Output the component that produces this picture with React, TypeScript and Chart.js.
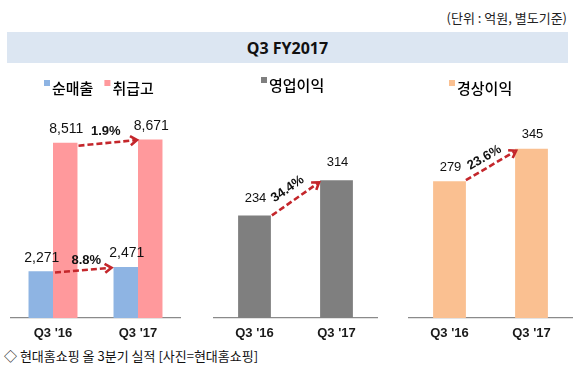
import React, { useEffect, useRef } from "react";
import { Chart, registerables } from "chart.js";

Chart.register(...registerables);

// ---- data ----
const categories = ["Q3 '16", "Q3 '17"];
const netSales = [2271, 2471]; // 순매출
const grossSales = [8511, 8671]; // 취급고
const operatingProfit = [234, 314]; // 영업이익
const ordinaryProfit = [279, 345]; // 경상이익
const growthNetSales = "8.8%";
const growthGrossSales = "1.9%";
const growthOperating = "34.4%";
const growthOrdinary = "23.6%";
const legendPanel1 = ["순매출", "취급고"];
const legendPanel2 = ["영업이익"];
const legendPanel3 = ["경상이익"];
const titleText = "Q3 FY2017";
const unitText = "(단위 : 억원, 별도기준)";
const captionText = "◇ 현대홈쇼핑 올 3분기 실적 [사진=현대홈쇼핑]";

// ---- styles ----
const BLUE = "#8EB4E3";
const PINK = "#FF999C";
const GRAY = "#7F7F7F";
const ORANGE = "#FAC091";
const ARROW = "#C4262B";
const CJK = '"Noto Sans CJK KR", "Noto Sans", sans-serif';
const LATIN = '"Liberation Sans", Arial, sans-serif';

const annotPlugin = {
  id: "annot",
  afterDatasetsDraw(chart: any, _args: any, opts: any) {
    const ctx = chart.ctx;
    // legend
    if (opts.legend) {
      const lg = opts.legend;
      ctx.save();
      ctx.font = `500 15px ${CJK}`;
      ctx.textBaseline = "middle";
      ctx.textAlign = "left";
      let x = lg.x;
      lg.items.forEach((it: any) => {
        ctx.fillStyle = it.color;
        ctx.fillRect(x, lg.y - 8, 6, 6);
        x += 8;
        ctx.fillStyle = "#000";
        ctx.fillText(it.text, x, lg.y);
        x += ctx.measureText(it.text).width + 11;
      });
      ctx.restore();
    }
    // value labels
    chart.data.datasets.forEach((ds: any, di: number) => {
      const meta = chart.getDatasetMeta(di);
      meta.data.forEach((el: any, i: number) => {
        const v = ds.data[i];
        ctx.save();
        ctx.font = opts.valueFont;
        ctx.fillStyle = "#111";
        ctx.textAlign = "center";
        ctx.textBaseline = "middle";
        ctx.fillText(Number(v).toLocaleString("en-US"), el.x + 1, el.y - opts.valueOffset);
        ctx.restore();
      });
    });
    // arrows
    (opts.arrows || []).forEach((a: any) => {
      const meta = chart.getDatasetMeta(a.dataset);
      const p0 = meta.data[0];
      const p1 = meta.data[1];
      const x0 = p0.x + p0.width / 2 + a.s[0];
      const y0 = p0.y + a.s[1];
      const x1 = p1.x - p1.width / 2 + a.e[0];
      const y1 = p1.y + a.e[1];
      const ang = Math.atan2(y1 - y0, x1 - x0);
      const head = 8;
      ctx.save();
      ctx.strokeStyle = ARROW;
      ctx.lineWidth = 2.6;
      ctx.setLineDash([6, 3]);
      ctx.beginPath();
      ctx.moveTo(x0, y0);
      ctx.lineTo(x1 - Math.cos(ang) * 2, y1 - Math.sin(ang) * 2);
      ctx.stroke();
      ctx.setLineDash([]);
      ctx.lineJoin = "miter";
      ctx.beginPath();
      ctx.moveTo(x1 - head * Math.cos(ang - 0.6), y1 - head * Math.sin(ang - 0.6));
      ctx.lineTo(x1, y1);
      ctx.lineTo(x1 - head * Math.cos(ang + 0.6), y1 - head * Math.sin(ang + 0.6));
      ctx.stroke();
      // label
      const mx = (x0 + x1) / 2 + (a.ldx || 0);
      const my = (y0 + y1) / 2;
      ctx.font = `bold 13px ${LATIN}`;
      ctx.fillStyle = "#111";
      ctx.textAlign = "center";
      ctx.textBaseline = "middle";
      if (a.rotate) {
        const nx = Math.sin(ang);
        const ny = -Math.cos(ang);
        ctx.translate(mx + nx * a.off, my + ny * a.off);
        ctx.rotate(ang);
        ctx.fillText(a.text, 0, 0);
      } else {
        ctx.fillText(a.text, mx, my - a.off);
      }
      ctx.restore();
    });
  },
};

function makeConfig(p: any) {
  return {
    type: "bar",
    data: { labels: categories, datasets: p.datasets },
    plugins: [annotPlugin],
    options: {
      responsive: false,
      animation: false,
      layout: { padding: { top: 47, left: p.padL, right: p.padR, bottom: 0 } },
      scales: {
        x: {
          grid: { display: false, drawTicks: false },
          border: { display: true, color: "#8A8A8A", width: 1.3 },
          ticks: {
            padding: 8,
            color: "#1a1a1a",
            font: { family: LATIN, weight: "bold", size: 13 },
          },
          afterFit: (s: any) => {
            s.height = 27;
          },
        },
        y: { display: false, min: 0, max: p.max },
      },
      plugins: {
        legend: { display: false },
        tooltip: { enabled: false },
        annot: {
          legend: p.legend,
          valueFont: p.valueFont,
          valueOffset: p.valueOffset,
          arrows: p.arrows,
        },
      },
    },
  };
}

function Panel(props: any) {
  const ref = useRef<HTMLCanvasElement | null>(null);
  useEffect(() => {
    const chart = new Chart(ref.current as any, makeConfig(props.cfg) as any);
    return () => chart.destroy();
  }, []);
  return (
    <canvas
      ref={ref}
      width={props.w}
      height={280}
      style={{ position: "absolute", left: props.left, top: 65, width: props.w, height: 280 }}
    />
  );
}

const panel1 = {
  padL: 10.5,
  padR: 11.5,
  max: 10000,
  valueFont: `14px ${LATIN}`,
  valueOffset: 13.5,
  legend: {
    x: 44,
    y: 23,
    items: [
      { text: legendPanel1[0], color: BLUE },
      { text: legendPanel1[1], color: PINK },
    ],
  },
  datasets: [
    { data: netSales, backgroundColor: BLUE, barPercentage: 1, categoryPercentage: 0.576 },
    { data: grossSales, backgroundColor: PINK, barPercentage: 1, categoryPercentage: 0.576 },
  ],
  arrows: [
    { dataset: 1, s: [1, 3], e: [-1, 0.7], text: growthGrossSales, off: 11, rotate: false, ldx: -2 },
    { dataset: 0, s: [2, 1.3], e: [-2, 0.7], text: growthNetSales, off: 10, rotate: false, ldx: 3 },
  ],
};

const panel2 = {
  padL: 21.5,
  padR: 5.5,
  max: 470,
  valueFont: `13px ${LATIN}`,
  valueOffset: 17.5,
  legend: { x: 69, y: 20, items: [{ text: legendPanel2[0], color: GRAY }] },
  datasets: [
    { data: operatingProfit, backgroundColor: GRAY, barPercentage: 0.4, categoryPercentage: 1 },
  ],
  arrows: [{ dataset: 0, s: [1, 0], e: [-1, 2], text: growthOperating, off: 12, rotate: true, ldx: -1 }],
};

const panel3 = {
  padL: 25.5,
  padR: 3.5,
  max: 420,
  valueFont: `13px ${LATIN}`,
  valueOffset: 14,
  legend: { x: 66, y: 23, items: [{ text: legendPanel3[0], color: ORANGE }] },
  datasets: [
    { data: ordinaryProfit, backgroundColor: ORANGE, barPercentage: 0.4, categoryPercentage: 1 },
  ],
  arrows: [{ dataset: 0, s: [0, -1], e: [1, 2], text: growthOrdinary, off: 9, rotate: true, ldx: -2 }],
};

export default function App() {
  return (
    <div
      style={{
        position: "fixed",
        left: 0,
        top: 0,
        width: 576,
        height: 369,
        background: "#fff",
        overflow: "hidden",
      }}
    >
      <div
        style={{
          position: "absolute",
          right: 9,
          top: 9,
          font: `13px ${CJK}`,
          color: "#222",
          whiteSpace: "nowrap",
          lineHeight: "18px",
        }}
      >
        {unitText}
      </div>
      <div
        style={{
          position: "absolute",
          left: 7,
          top: 32,
          width: 561,
          height: 31,
          background: "#DCE6F2",
          display: "flex",
          alignItems: "center",
          justifyContent: "center",
          font: `bold 16px "Noto Sans", sans-serif`,
          color: "#111",
        }}
      >
        {titleText}
      </div>
      <Panel cfg={panel1} left={0} w={192} />
      <Panel cfg={panel2} left={192} w={191} />
      <Panel cfg={panel3} left={383} w={193} />
      <div
        style={{
          position: "absolute",
          left: 4,
          top: 347,
          font: `13px ${CJK}`,
          color: "#111",
          whiteSpace: "nowrap",
          lineHeight: "18px",
        }}
      >
        {captionText}
      </div>
    </div>
  );
}
